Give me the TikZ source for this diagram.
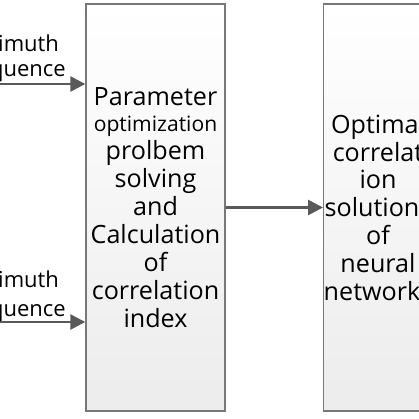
\documentclass[tikz,border=0pt]{standalone}
\usepackage{fontspec}
\setmainfont{Open Sans}
\usepackage{tikz}
\usetikzlibrary{arrows.meta,positioning}
\definecolor{boxline}{RGB}{120,120,120}
\definecolor{flowgray}{RGB}{89,89,89}
\definecolor{boxbottom}{RGB}{236,236,236}

\begin{document}
\begin{tikzpicture}[x=0.02cm,y=-0.02cm,
  procbox/.style={draw=boxline,line width=0.8pt,top color=white,bottom color=boxbottom,
    minimum height=8.14cm,inner sep=0pt,align=center,font=\fontsize{14.3}{15.9}\selectfont},
  flow/.style={draw=flowgray,line width=1.5pt,-{Triangle[length=8.5pt,width=8.5pt]}},
  inlabel/.style={inner sep=0pt,align=center,anchor=south east}]
\useasboundingbox (0,0) rectangle (419,419);
\clip (0,0) rectangle (419,419);
% ---------- boxes ----------
\node[procbox,minimum width=2.78cm] (calc) at (155.5,207.5)
  {Parameter\\[-1pt]{\fontsize{12}{14}\selectfont optimization}\\prolbem\\solving\\and\\Calculation\\of\\correlation\\index};
\node[procbox,minimum width=2.04cm] (optim) at (378,207.5)
  {Optimal\\correlat\\ion\\solutions\\of\\neural\\networks};
% ---------- inputs ----------
\node[inlabel,font=\fontsize{12.5}{14.2}\selectfont] (seqa) at (66,82) {Azimuth\\sequence};
\node[inlabel,font=\fontsize{12.5}{16.4}\selectfont] (seqb) at (66,322) {Azimuth\\sequence};
\coordinate (ina) at (-5,84);
\coordinate (inb) at (-5,322);
\draw[flow] (ina) -- (ina -| calc.west);
\draw[flow] (inb) -- (inb -| calc.west);
\draw[flow] (calc.east |- optim.west) -- (optim.west);
\end{tikzpicture}
\end{document}
